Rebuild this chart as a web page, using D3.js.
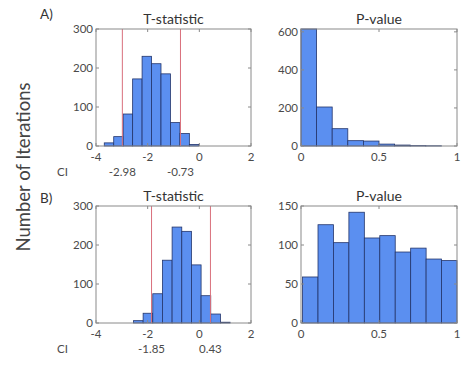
<!DOCTYPE html>
<html>
<head>
<meta charset="utf-8">
<script src="https://cdn.jsdelivr.net/npm/d3@7"></script>
<style>
  body { margin: 0; background: #fff; }
  text { font-family: "Lato", "DejaVu Sans", sans-serif; }
</style>
</head>
<body>
<script>
// histogram counts
const tA_start = -3.68, tA_width = 0.366;
const tA_counts = [8, 24, 82, 172, 230, 211, 185, 60, 32, 4];
const tA_ci = [-2.98, -0.73];

const pA_start = 0, pA_width = 0.1;
const pA_counts = [615, 205, 91, 28, 26, 10, 5, 2, 1, 0];

const tB_start = -2.55, tB_width = 0.374;
const tB_counts = [6, 25, 75, 161, 246, 235, 149, 70, 23, 2];
const tB_ci = [-1.85, 0.43];

const pB_start = 0.01, pB_width = 0.099;
const pB_counts = [59, 126, 103, 142, 109, 112, 91, 96, 82, 80];

const tXTicks = [-4, -2, 0, 2];
const tYTicks = [0, 100, 200, 300];
const pXTicks = [0, 0.5, 1];
const pAYTicks = [0, 200, 400, 600];
const pBYTicks = [0, 50, 100, 150];

const W = 474, H = 390;
const svg = d3.select("body").append("svg").attr("width", W).attr("height", H);

const axisColor = "#8a8a8a";
const labelColor = "#4a4a4a";
const barFill = "#5b8ff0";
const barStroke = "#23356b";
const ciColor = "#d9707c";

function panel(opts) {
  const { x0, x1, y0, y1 } = opts;
  const x = d3.scaleLinear().domain(opts.xDomain).range([x0, x1]);
  const y = d3.scaleLinear().domain(opts.yDomain).range([y1, y0]);
  const g = svg.append("g");

  const bins = opts.counts.map((c, i) => ({
    lo: opts.start + i * opts.width,
    hi: opts.start + (i + 1) * opts.width,
    c
  }));

  g.selectAll("rect.bar")
    .data(bins.filter(b => b.c > 0))
    .join("rect")
    .attr("class", "bar")
    .attr("x", d => x(d.lo))
    .attr("width", d => x(d.hi) - x(d.lo))
    .attr("y", d => y(d.c))
    .attr("height", d => y(0) - y(d.c))
    .style("fill", barFill)
    .style("stroke", barStroke)
    .style("stroke-width", 0.8);

  if (opts.ci) {
    g.selectAll("line.ci")
      .data(opts.ci)
      .join("line")
      .attr("x1", d => x(d)).attr("x2", d => x(d))
      .attr("y1", y0).attr("y2", y1)
      .style("stroke", ciColor)
      .style("stroke-width", 1);
  }

  // box
  g.append("rect")
    .attr("x", x0).attr("y", y0)
    .attr("width", x1 - x0).attr("height", y1 - y0)
    .style("fill", "none")
    .style("stroke", axisColor)
    .style("stroke-width", 1);

  // inside ticks on all sides
  const tl = 3;
  g.selectAll("line.xt")
    .data(opts.xTicks.flatMap(t => [[t, y1, -tl], [t, y0, tl]]))
    .join("line")
    .attr("x1", d => x(d[0])).attr("x2", d => x(d[0]))
    .attr("y1", d => d[1]).attr("y2", d => d[1] + d[2])
    .style("stroke", axisColor);
  g.selectAll("line.yt")
    .data(opts.yTicks.flatMap(t => [[t, x0, tl], [t, x1, -tl]]))
    .join("line")
    .attr("y1", d => y(d[0])).attr("y2", d => y(d[0]))
    .attr("x1", d => d[1]).attr("x2", d => d[1] + d[2])
    .style("stroke", axisColor);

  g.selectAll("text.xl")
    .data(opts.xTicks)
    .join("text")
    .attr("x", d => x(d))
    .attr("y", y1 + 15)
    .attr("text-anchor", "middle")
    .style("font-size", "11.5px")
    .style("fill", labelColor)
    .text(d => d);
  g.selectAll("text.yl")
    .data(opts.yTicks)
    .join("text")
    .attr("x", x0 - 3)
    .attr("y", d => y(d) + 4)
    .attr("text-anchor", "end")
    .style("font-size", "11.5px")
    .style("fill", labelColor)
    .text(d => d);

  g.append("text")
    .attr("x", (x0 + x1) / 2)
    .attr("y", y0 - 5)
    .attr("text-anchor", "middle")
    .style("font-size", "14px")
    .style("fill", "#333")
    .text(opts.title);

  if (opts.ci) {
    g.selectAll("text.ci")
      .data(opts.ci)
      .join("text")
      .attr("x", d => x(d))
      .attr("y", y1 + 30)
      .attr("text-anchor", "middle")
      .style("font-size", "11.5px")
      .style("fill", labelColor)
      .text(d => d.toFixed(2));
    g.append("text")
      .attr("x", 57).attr("y", y1 + 30)
      .style("font-size", "11.5px")
      .style("fill", labelColor)
      .text("CI");
  }
}

panel({ x0: 96, x1: 251, y0: 29, y1: 146, xDomain: [-4, 2], yDomain: [0, 300],
  start: tA_start, width: tA_width, counts: tA_counts, ci: tA_ci,
  xTicks: tXTicks, yTicks: tYTicks, title: "T-statistic" });
panel({ x0: 301, x1: 457, y0: 29, y1: 146, xDomain: [0, 1], yDomain: [0, 615],
  start: pA_start, width: pA_width, counts: pA_counts,
  xTicks: pXTicks, yTicks: pAYTicks, title: "P-value" });
panel({ x0: 96, x1: 251, y0: 206, y1: 323, xDomain: [-4, 2], yDomain: [0, 300],
  start: tB_start, width: tB_width, counts: tB_counts, ci: tB_ci,
  xTicks: tXTicks, yTicks: tYTicks, title: "T-statistic" });
panel({ x0: 301, x1: 457, y0: 206, y1: 323, xDomain: [0, 1], yDomain: [0, 150],
  start: pB_start, width: pB_width, counts: pB_counts,
  xTicks: pXTicks, yTicks: pBYTicks, title: "P-value" });

svg.append("text").attr("x", 40).attr("y", 19)
  .style("font-size", "13.5px").style("fill", "#333").text("A)");
svg.append("text").attr("x", 40).attr("y", 203)
  .style("font-size", "13.5px").style("fill", "#333").text("B)");

svg.append("text")
  .attr("transform", "translate(30,167) rotate(-90)")
  .attr("text-anchor", "middle")
  .style("font-size", "18.5px")
  .style("fill", "#444")
  .text("Number of Iterations");
</script>
</body>
</html>
